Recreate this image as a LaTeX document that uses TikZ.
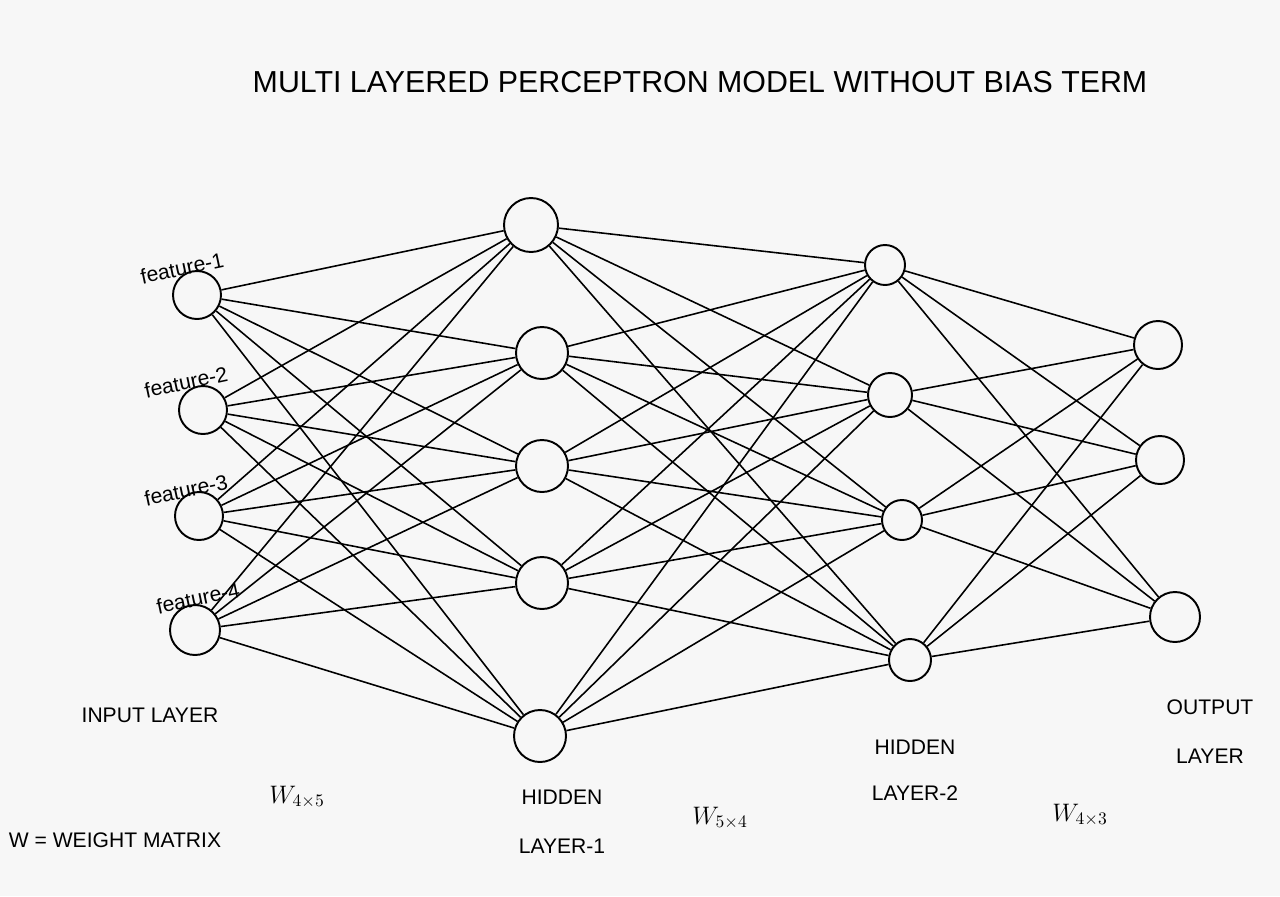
\documentclass[tikz,border=0pt]{standalone}
\usepackage{fontspec}
\setmainfont{Liberation Sans}
\begin{document}
\begin{tikzpicture}[x=0.02cm,y=-0.02cm,
  neuron/.style={circle,draw,line width=1.1pt,inner sep=0pt},
  edge/.style={line width=0.9pt},
  lbl/.style={font=\large, align=center}]
\useasboundingbox (0,0) rectangle (1280,896);
\fill[gray!6] (0,0) rectangle (1280,896);
\foreach \n/\x/\y/\r in {i1/197/295/24,i2/203/410/24,i3/199/516/24,i4/195/630/25,
  a1/531/225/27,a2/542/353/26,a3/542/466/26,a4/542/583/26,a5/540/736/26,
  b1/885/265/20,b2/890/395/22,b3/902/520/20,b4/910/660/21,
  o1/1158/345/24,o2/1160/460/24,o3/1175/617/25}
  \node[neuron,minimum size=2*\r*0.02cm] (\n) at (\x,\y) {};
\foreach \i in {i1,i2,i3,i4} \foreach \j in {a1,a2,a3,a4,a5} \draw[edge] (\i) -- (\j);
\foreach \i in {a1,a2,a3,a4,a5} \foreach \j in {b1,b2,b3,b4} \draw[edge] (\i) -- (\j);
\foreach \i in {b1,b2,b3,b4} \foreach \j in {o1,o2,o3} \draw[edge] (\i) -- (\j);
\node[lbl,font=\LARGE] (title) at (700,82) {MULTI LAYERED PERCEPTRON MODEL WITHOUT BIAS TERM};
\node[lbl,rotate=12] (f1) at (182,268) {feature-1};
\node[lbl,rotate=12] (f2) at (186,382) {feature-2};
\node[lbl,rotate=12] (f3) at (186,490) {feature-3};
\node[lbl,rotate=12] (f4) at (198,598) {feature-4};
\node[lbl] (inl) at (150,715) {INPUT LAYER};
\node[lbl,font=\Large] (w1) at (297,797) {$W_{4\times5}$};
\node[lbl] (wm) at (115,840) {W = WEIGHT MATRIX};
\node[lbl] (h1) at (562,822) {HIDDEN\\[14pt]LAYER-1};
\node[lbl,font=\Large] (w2) at (720,818) {$W_{5\times4}$};
\node[lbl] (h2) at (915,770) {HIDDEN\\[12pt]LAYER-2};
\node[lbl,font=\Large] (w3) at (1080,815) {$W_{4\times3}$};
\node[lbl] (ol) at (1210,732) {OUTPUT\\[14pt]LAYER};
\end{tikzpicture}
\end{document}
